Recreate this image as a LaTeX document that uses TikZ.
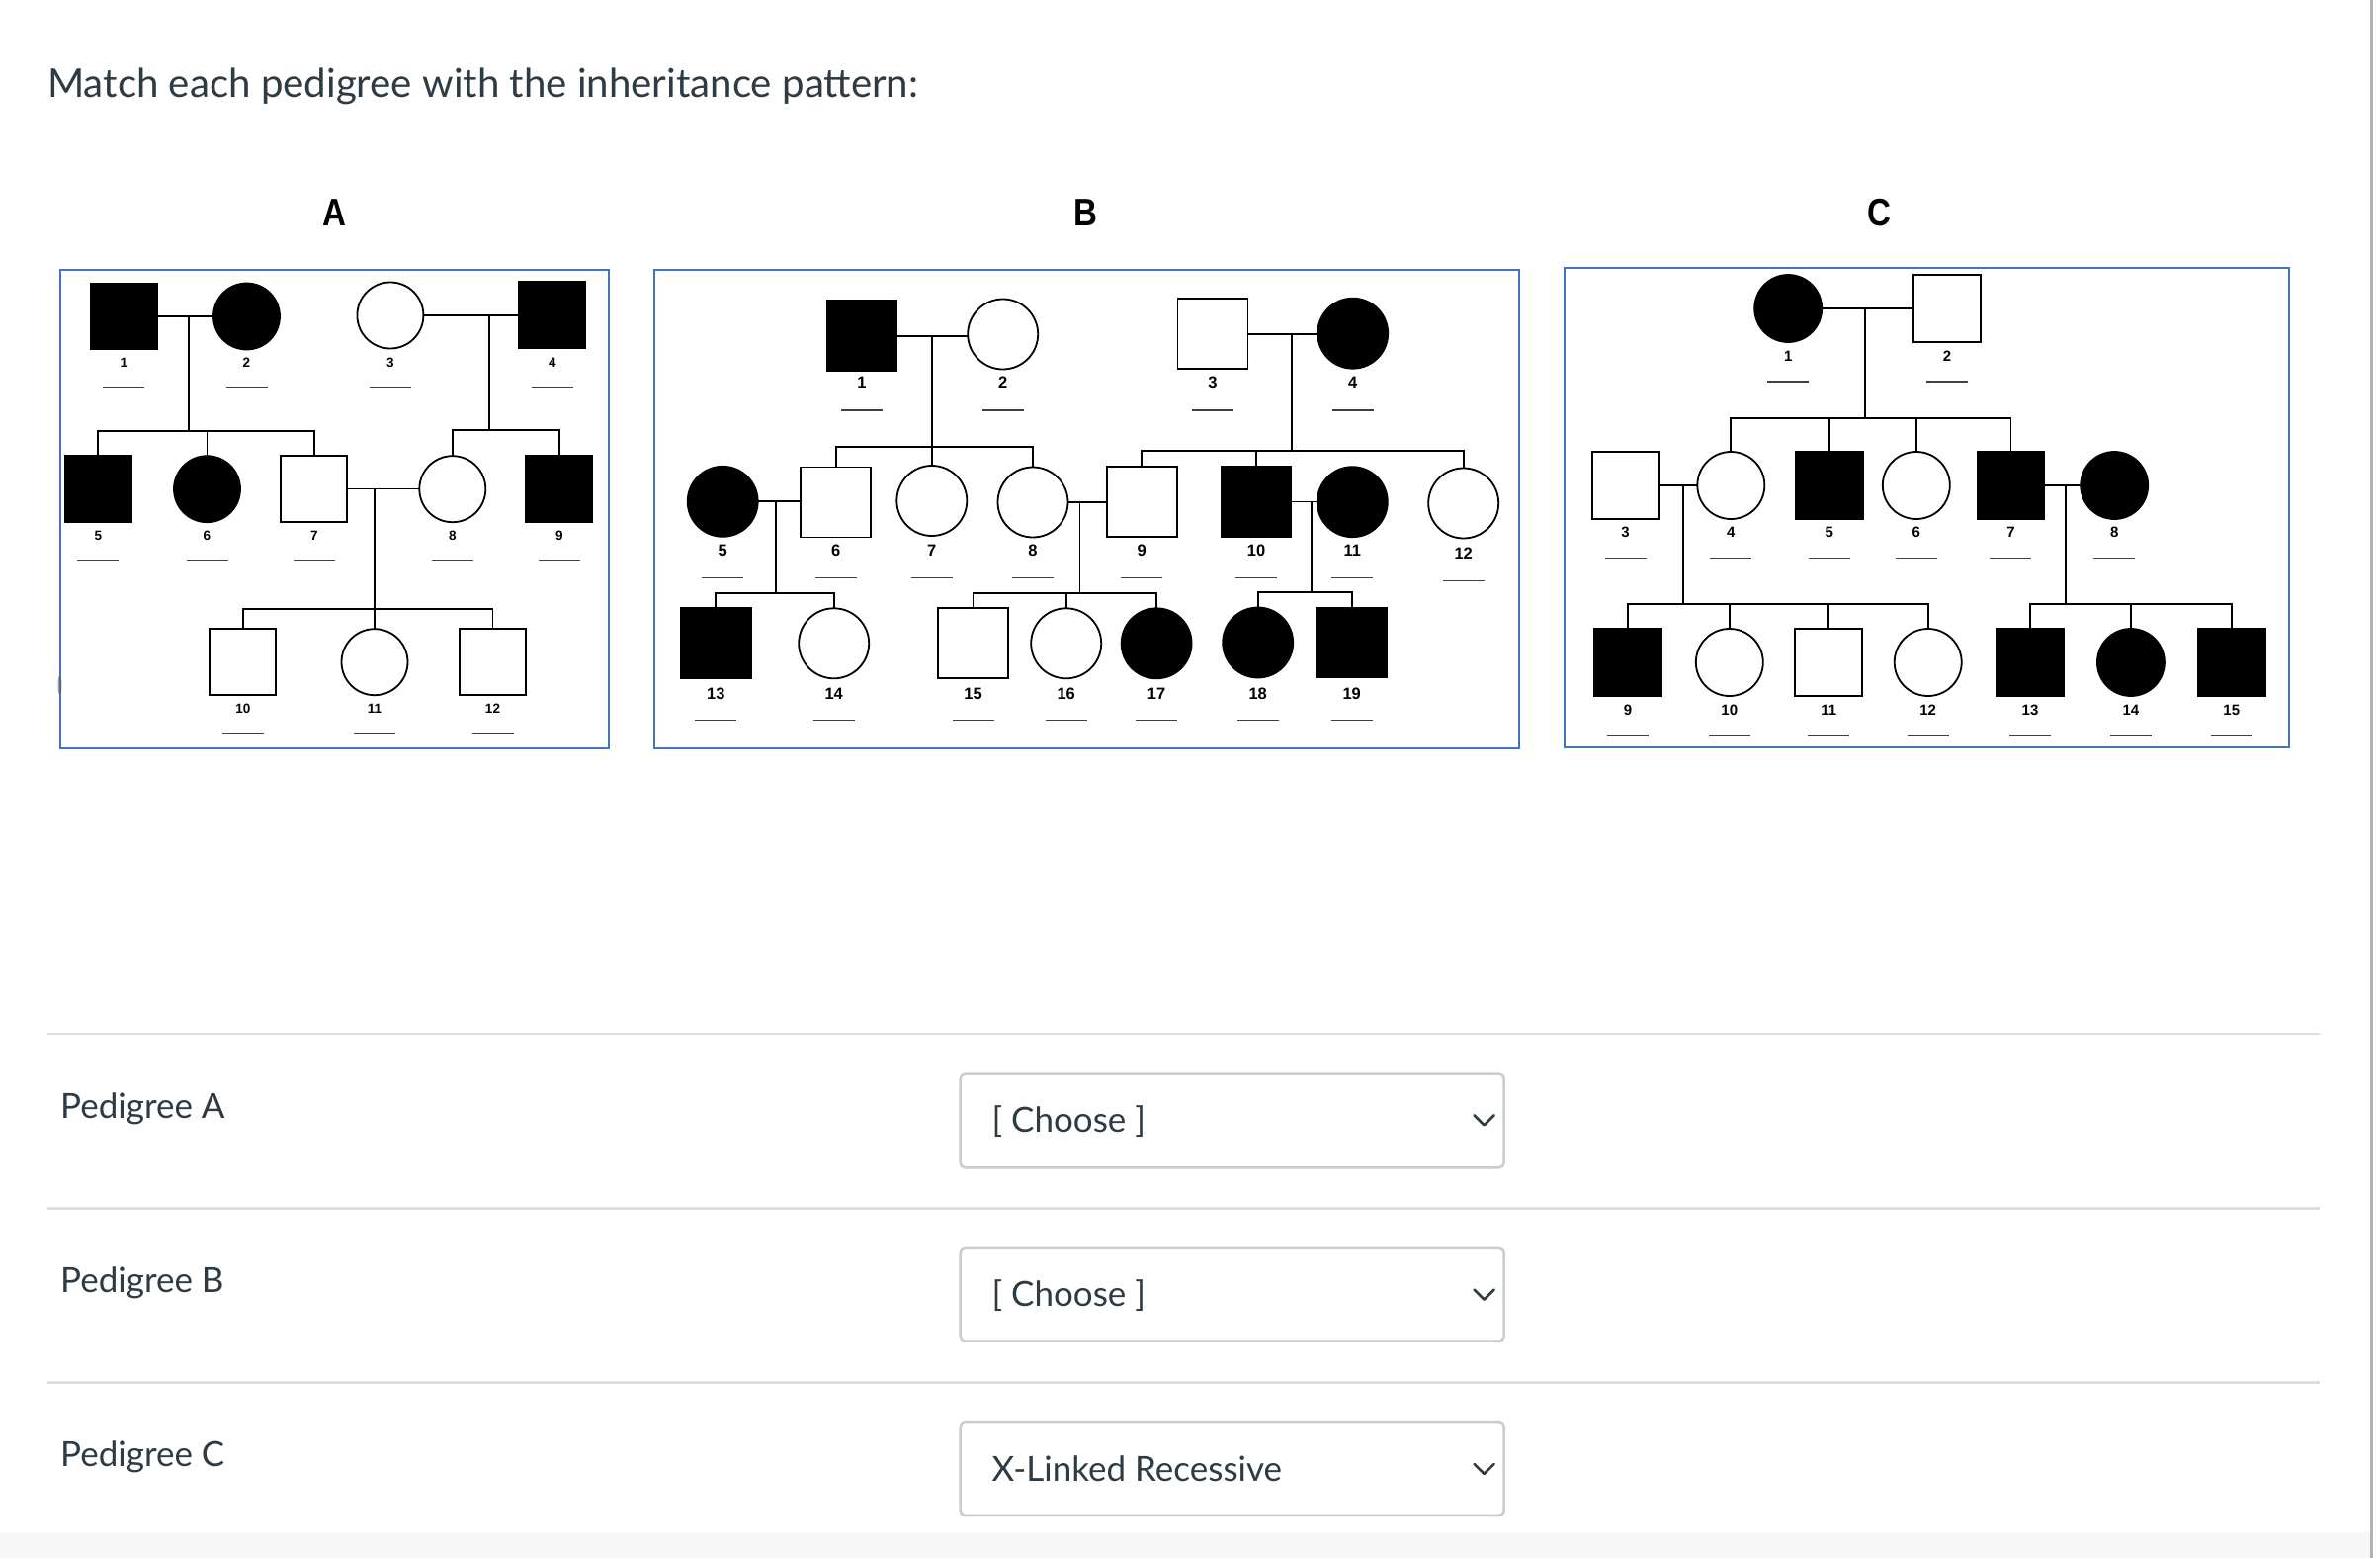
\documentclass[tikz,border=0pt]{standalone}
\usepackage{fontspec}
\setmainfont{Lato}
\newfontfamily\arial{Liberation Sans}
\definecolor{txt}{HTML}{2D3B45}
\definecolor{frm}{HTML}{4472C4}
\definecolor{rulec}{HTML}{DEDEDE}
\definecolor{boxc}{HTML}{C7CDD1}
\tikzset{
  ped/.style={draw=black, line width=1.8pt, inner sep=0pt, outer sep=0pt, fill=white},
  male/.style={ped, rectangle, minimum size=#1},
  female/.style={ped, circle, minimum size=#1},
  aff/.style={fill=black},
  pl/.style={line width=1.8pt, black},
  ul/.style={line width=1.5pt, black!75},
  numA/.style={font=\arial\bfseries\fontsize{13.5}{13.5}\selectfont, inner sep=0pt},
  numB/.style={font=\arial\bfseries\fontsize{16.5}{16.5}\selectfont, inner sep=0pt},
  numC/.style={font=\arial\bfseries\fontsize{15}{15}\selectfont, inner sep=0pt},
  frame/.style={draw=frm, line width=2pt},
  letter/.style={font=\arial\bfseries\fontsize{39}{39}\selectfont, inner sep=0pt, text=black, xscale=0.85},
  rowlabel/.style={font=\fontsize{35}{40}\selectfont, text=txt, inner sep=0pt, anchor=base west},
  choice/.style={font=\fontsize{35}{40}\selectfont, text=txt, inner sep=0pt, anchor=base west},
  selbox/.style={draw=boxc, line width=2.5pt, rounded corners=5pt, fill=white},
  chev/.style={draw=txt, line width=2.6pt, line cap=round, line join=round},
  hrule/.style={draw=rulec, line width=2.5pt}
}
% #1 name, #2 x, #3 y, #4 symbol style, #5 number, #6 label dy, #7 underline dy, #8 number style
\newcommand{\indiv}[8]{%
  \node[#4] (#1) at (#2,#3) {};
  \node[#8] (#1n) at (#2,{#3+#6}) {#5};
  \draw[ul] ({#2-21},{#3+#7}) -- ({#2+21},{#3+#7});
}
\begin{document}
\begin{tikzpicture}[x=1pt,y=-1pt]
\fill[white] (0,0) rectangle (2408,1576);
\useasboundingbox (0,0) rectangle (2408,1576);
\fill[black!3] (0,1550) rectangle (2398,1576);
\draw[draw=black!30, line width=3pt] (2399.5,0) -- (2399.5,1576);

% title
\node[font=\fontsize{40.2}{46}\selectfont, text=txt, anchor=base west, inner sep=0pt] (title) at (48,98.3) {Match each pedigree with the inheritance pattern:};

% letters
\node[letter] (LA) at (338,215.5) {A};
\node[letter] (LB) at (1098,215.5) {B};
\node[letter] (LC) at (1901,215.5) {C};

% frames
\draw[frame] (61,272.5) rectangle (616,757);
\draw[frame] (662,272.5) rectangle (1537,757);
\draw[frame] (1583,270.5) rectangle (2316,756);
\fill[black!60, opacity=0.6] (60.5,693) ellipse (2pt and 10pt);

% ---------------- Pedigree A ----------------
\indiv{a1}{125.3}{320}{male=67,aff}{1}{46.7}{71.7}{numA}
\indiv{a2}{249.5}{320}{female=67,aff}{2}{46.7}{71.7}{numA}
\indiv{a3}{394.9}{319}{female=67}{3}{47.7}{72.7}{numA}
\indiv{a4}{558.8}{318.3}{male=67,aff}{4}{48.4}{73.4}{numA}
\indiv{a5}{99.3}{494.7}{male=67,aff}{5}{47}{72}{numA}
\indiv{a6}{209.5}{494.7}{female=67,aff}{6}{47}{72}{numA}
\indiv{a7}{317.8}{494.5}{male=67}{7}{47.2}{72.2}{numA}
\indiv{a8}{457.8}{494.7}{female=67}{8}{47}{72}{numA}
\indiv{a9}{565.8}{494.5}{male=67,aff}{9}{47.2}{72.2}{numA}
\indiv{a10}{245.8}{669.7}{male=67}{10}{47}{72}{numA}
\indiv{a11}{379}{669.7}{female=67}{11}{47}{72}{numA}
\indiv{a12}{498.5}{669.7}{male=67}{12}{47}{72}{numA}
\coordinate (a12c) at (191.3,320);
\coordinate (a12s) at (191.3,436);
\coordinate (a34c) at (494.8,319);
\coordinate (a34s) at (494.8,435);
\coordinate (a78c) at (379,494.5);
\coordinate (a78s) at (379,615.7);
\draw[pl] (a1.east) -- (a2.west);
\draw[pl] (a12c) -- (a12s);
\draw[pl] (a5.north) |- (a7.north |- a12s) -- (a7.north);
\draw[pl] (a6.north) -- (a6.north |- a12s);
\draw[pl] (a3.east) -- (a3.east -| a4.west);
\draw[pl] (a34c) -- (a34s);
\draw[pl] (a8.north) |- (a9.north |- a34s) -- (a9.north);
\draw[pl] (a7.east) -- (a7.east -| a8.west);
\draw[pl] (a78c) -- (a78s);
\draw[pl] (a10.north) |- (a12.north |- a78s) -- (a12.north);
\draw[pl] (a11.north) -- (a11.north |- a78s);

% ---------------- Pedigree B ----------------
\indiv{b1}{872}{339.7}{male=71,aff}{1}{47}{75.3}{numB}
\indiv{b2}{1014.7}{338}{female=71}{2}{48.7}{77}{numB}
\indiv{b3}{1227}{337.8}{male=71}{3}{48.9}{77.2}{numB}
\indiv{b4}{1368.7}{337.2}{female=71,aff}{4}{49.5}{77.8}{numB}
\indiv{b5}{731.2}{507.3}{female=71,aff}{5}{49.4}{77}{numB}
\indiv{b6}{845.6}{508}{male=71}{6}{48.7}{76.3}{numB}
\indiv{b7}{942.8}{506.5}{female=71}{7}{50.2}{77.8}{numB}
\indiv{b8}{1045}{508}{female=71}{8}{48.7}{76.3}{numB}
\indiv{b9}{1155.2}{507.7}{male=71}{9}{49}{76.6}{numB}
\indiv{b10}{1271}{507.5}{male=71,aff}{10}{49.2}{76.8}{numB}
\indiv{b11}{1368.3}{507.7}{female=71,aff}{11}{49}{76.6}{numB}
\indiv{b12}{1480.7}{509}{female=71}{12}{51}{78.3}{numB}
\indiv{b13}{724.3}{650.8}{male=71,aff}{13}{50.9}{77.5}{numB}
\indiv{b14}{843.7}{650.8}{female=71}{14}{50.9}{77.5}{numB}
\indiv{b15}{984.5}{650.3}{male=71}{15}{51.4}{78}{numB}
\indiv{b16}{1078.7}{650.8}{female=71}{16}{50.9}{77.5}{numB}
\indiv{b17}{1170.1}{650.8}{female=71,aff}{17}{50.9}{77.5}{numB}
\indiv{b18}{1272.7}{650}{female=71,aff}{18}{51.7}{78.3}{numB}
\indiv{b19}{1367.7}{650}{male=71,aff}{19}{51.7}{78.3}{numB}
\coordinate (b12c) at (942.8,339.7);
\coordinate (b12s) at (942.8,452.3);
\coordinate (b34c) at (1306.7,337.8);
\coordinate (b34s) at (1306.7,456);
\coordinate (b56c) at (785.1,507.3);
\coordinate (b56s) at (785.1,600);
\coordinate (b89c) at (1092.4,508);
\coordinate (b89s) at (1092.4,600);
\coordinate (b1011c) at (1326.7,507.5);
\coordinate (b1011s) at (1326.7,599.3);
\draw[pl] (b1.east) -- (b1.east -| b2.west);
\draw[pl] (b12c) -- (b12s);
\draw[pl] (b6.north) |- (b8.north |- b12s) -- (b8.north);
\draw[pl] (b7.north) -- (b7.north |- b12s);
\draw[pl] (b3.east) -- (b3.east -| b4.west);
\draw[pl] (b34c) -- (b34s);
\draw[pl] (b9.north) |- (b12.north |- b34s) -- (b12.north);
\draw[pl] (b10.north) -- (b10.north |- b34s);
\draw[pl] (b5.east) -- (b5.east -| b6.west);
\draw[pl] (b56c) -- (b56s);
\draw[pl] (b13.north) |- (b14.north |- b56s) -- (b14.north);
\draw[pl] (b8.east) -- (b8.east -| b9.west);
\draw[pl] (b89c) -- (b89s);
\draw[pl] (b15.north) |- (b17.north |- b89s) -- (b17.north);
\draw[pl] (b16.north) -- (b16.north |- b89s);
\draw[pl] (b10.east) -- (b10.east -| b11.west);
\draw[pl] (b1011c) -- (b1011s);
\draw[pl] (b18.north) |- (b19.north |- b1011s) -- (b19.north);

% ---------------- Pedigree C ----------------
\indiv{c1}{1809.2}{312}{female=68,aff}{1}{48}{74}{numC}
\indiv{c2}{1969.9}{311.7}{male=68}{2}{48.3}{74.3}{numC}
\indiv{c3}{1644.6}{491}{male=68}{3}{47.3}{73.3}{numC}
\indiv{c4}{1751.3}{491}{female=68}{4}{47.3}{73.3}{numC}
\indiv{c5}{1850.8}{491}{male=68,aff}{5}{47.3}{73.3}{numC}
\indiv{c6}{1938.8}{491}{female=68}{6}{47.3}{73.3}{numC}
\indiv{c7}{2034.4}{491}{male=68,aff}{7}{47.3}{73.3}{numC}
\indiv{c8}{2139.2}{491}{female=68,aff}{8}{47.3}{73.3}{numC}
\indiv{c9}{1647}{670}{male=68,aff}{9}{48.3}{74}{numC}
\indiv{c10}{1749.8}{670}{female=68}{10}{48.3}{74}{numC}
\indiv{c11}{1850.3}{670}{male=68}{11}{48.3}{74}{numC}
\indiv{c12}{1950.7}{670}{female=68}{12}{48.3}{74}{numC}
\indiv{c13}{2054}{670}{male=68,aff}{13}{48.3}{74}{numC}
\indiv{c14}{2155.9}{670}{female=68,aff}{14}{48.3}{74}{numC}
\indiv{c15}{2257.8}{670}{male=68,aff}{15}{48.3}{74}{numC}
\coordinate (c12c) at (1886.6,312);
\coordinate (c12s) at (1886.6,423.3);
\coordinate (c34c) at (1703,491);
\coordinate (c34s) at (1703,610.7);
\coordinate (c78c) at (2089.9,491);
\coordinate (c78s) at (2089.9,610.7);
\draw[pl] (c1.east) -- (c1.east -| c2.west);
\draw[pl] (c12c) -- (c12s);
\draw[pl] (c4.north) |- (c7.north |- c12s) -- (c7.north);
\draw[pl] (c5.north) -- (c5.north |- c12s);
\draw[pl] (c6.north) -- (c6.north |- c12s);
\draw[pl] (c3.east) -- (c3.east -| c4.west);
\draw[pl] (c34c) -- (c34s);
\draw[pl] (c9.north) |- (c12.north |- c34s) -- (c12.north);
\draw[pl] (c10.north) -- (c10.north |- c34s);
\draw[pl] (c11.north) -- (c11.north |- c34s);
\draw[pl] (c7.east) -- (c7.east -| c8.west);
\draw[pl] (c78c) -- (c78s);
\draw[pl] (c13.north) |- (c15.north |- c78s) -- (c15.north);
\draw[pl] (c14.north) -- (c14.north |- c78s);

% ---------------- answer rows ----------------
\draw[hrule] (47.6,1046) -- (2347,1046);
\draw[hrule] (47.6,1222.3) -- (2347,1222.3);
\draw[hrule] (47.6,1398.3) -- (2347,1398.3);

\node[rowlabel] (pA) at (61,1131) {Pedigree A};
\node[rowlabel] (pB) at (61,1307.3) {Pedigree B};
\node[rowlabel] (pC) at (61,1483.6) {Pedigree C};

\draw[selbox] (971.7,1085.5) rectangle (1521.7,1180.3);
\draw[selbox] (971.7,1261.8) rectangle (1521.7,1356.6);
\draw[selbox] (971.7,1438.1) rectangle (1521.7,1532.9);

\node[choice] (sA) at (1003.3,1145.5) {[ Choose ]};
\node[choice] (sB) at (1003.3,1321.8) {[ Choose ]};
\node[choice] (sC) at (1003.3,1498.2) {X-Linked Recessive};

\draw[chev] (1491.5,1128.3) -- (1501.6,1138.3) -- (1511.7,1128.3);
\draw[chev] (1491.5,1304.6) -- (1501.6,1314.6) -- (1511.7,1304.6);
\draw[chev] (1491.5,1480.9) -- (1501.6,1490.9) -- (1511.7,1480.9);
\end{tikzpicture}
\end{document}
